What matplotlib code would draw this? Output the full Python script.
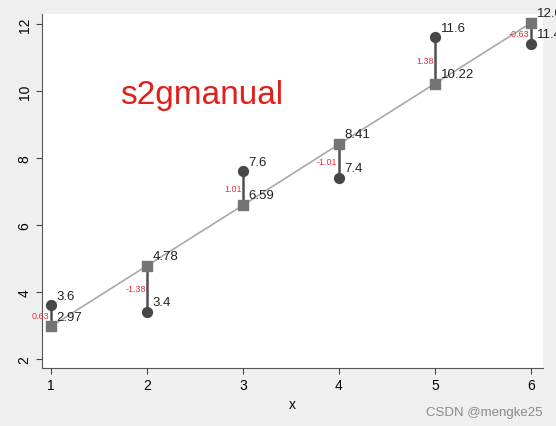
import numpy as np
import matplotlib.pyplot as plt

plt.rcParams["font.family"] = ["Liberation Sans", "DejaVu Sans"]

x = [1, 2, 3, 4, 5, 6]
y_obs = [3.6, 3.4, 7.6, 7.4, 11.6, 11.4]
y_fit = [2.97, 4.78, 6.59, 8.41, 10.22, 12.03]
obs_labels = ["3.6", "3.4", "7.6", "7.4", "11.6", "11.4"]
fit_labels = ["2.97", "4.78", "6.59", "8.41", "10.22", "12.03"]
resid_labels = ["0.63", "-1.38", "1.01", "-1.01", "1.38", "-0.63"]

bg = "#efefef"
fig = plt.figure(figsize=(5.56, 4.27), dpi=100, facecolor=bg)
ax = fig.add_axes([0.0755, 0.136, 0.901, 0.829])
ax.set_facecolor("white")

# residual segments
ax.vlines(x, y_obs, y_fit, color="#505050", linewidth=1.8, zorder=2)
# fitted line
ax.plot(x, y_fit, color="#a8a8a8", linewidth=1.2, zorder=1)
ax.scatter(x, y_fit, marker="s", s=55, color="#747474", zorder=3)
ax.scatter(x, y_obs, marker="o", s=50, color="#474747", zorder=3)

for xi, yo, yf, lo, lf, lr in zip(x, y_obs, y_fit, obs_labels, fit_labels, resid_labels):
    ax.annotate(lo, (xi, yo), xytext=(4, 7), textcoords="offset points",
                fontsize=9.5, color="#222222", va="center", ha="left", annotation_clip=False)
    ax.annotate(lf, (xi, yf), xytext=(4, 7), textcoords="offset points",
                fontsize=9.5, color="#222222", va="center", ha="left", annotation_clip=False)
    ax.annotate(lr, (xi, (yo + yf) / 2), xytext=(-1, 0), textcoords="offset points",
                fontsize=6.5, color="#e8303a", va="center", ha="right")

ax.text(1.72, 9.9, "s2gmanual", fontsize=24, color="#e0201a", va="center", ha="left")

ax.set_xlim(0.906, 6.125)
ax.set_ylim(1.73, 12.3)
ax.set_xticks(x)
ax.set_yticks([2, 4, 6, 8, 10, 12])
ax.tick_params(axis="y", labelrotation=90, labelsize=10, length=4, color="#444444")
ax.tick_params(axis="x", labelsize=10, length=4, color="#444444")
for lab in ax.get_yticklabels():
    lab.set_va("center")
ax.spines["top"].set_visible(False)
ax.spines["right"].set_visible(False)
ax.spines["left"].set_color("#555555")
ax.spines["bottom"].set_color("#555555")
ax.set_xlabel("x", fontsize=10, labelpad=3)

fig.text(0.975, 0.032, "CSDN @mengke25", fontsize=9.5, color="#8a8a8a", ha="right", va="center")

fig.savefig("out.png", dpi=100, facecolor=bg)
